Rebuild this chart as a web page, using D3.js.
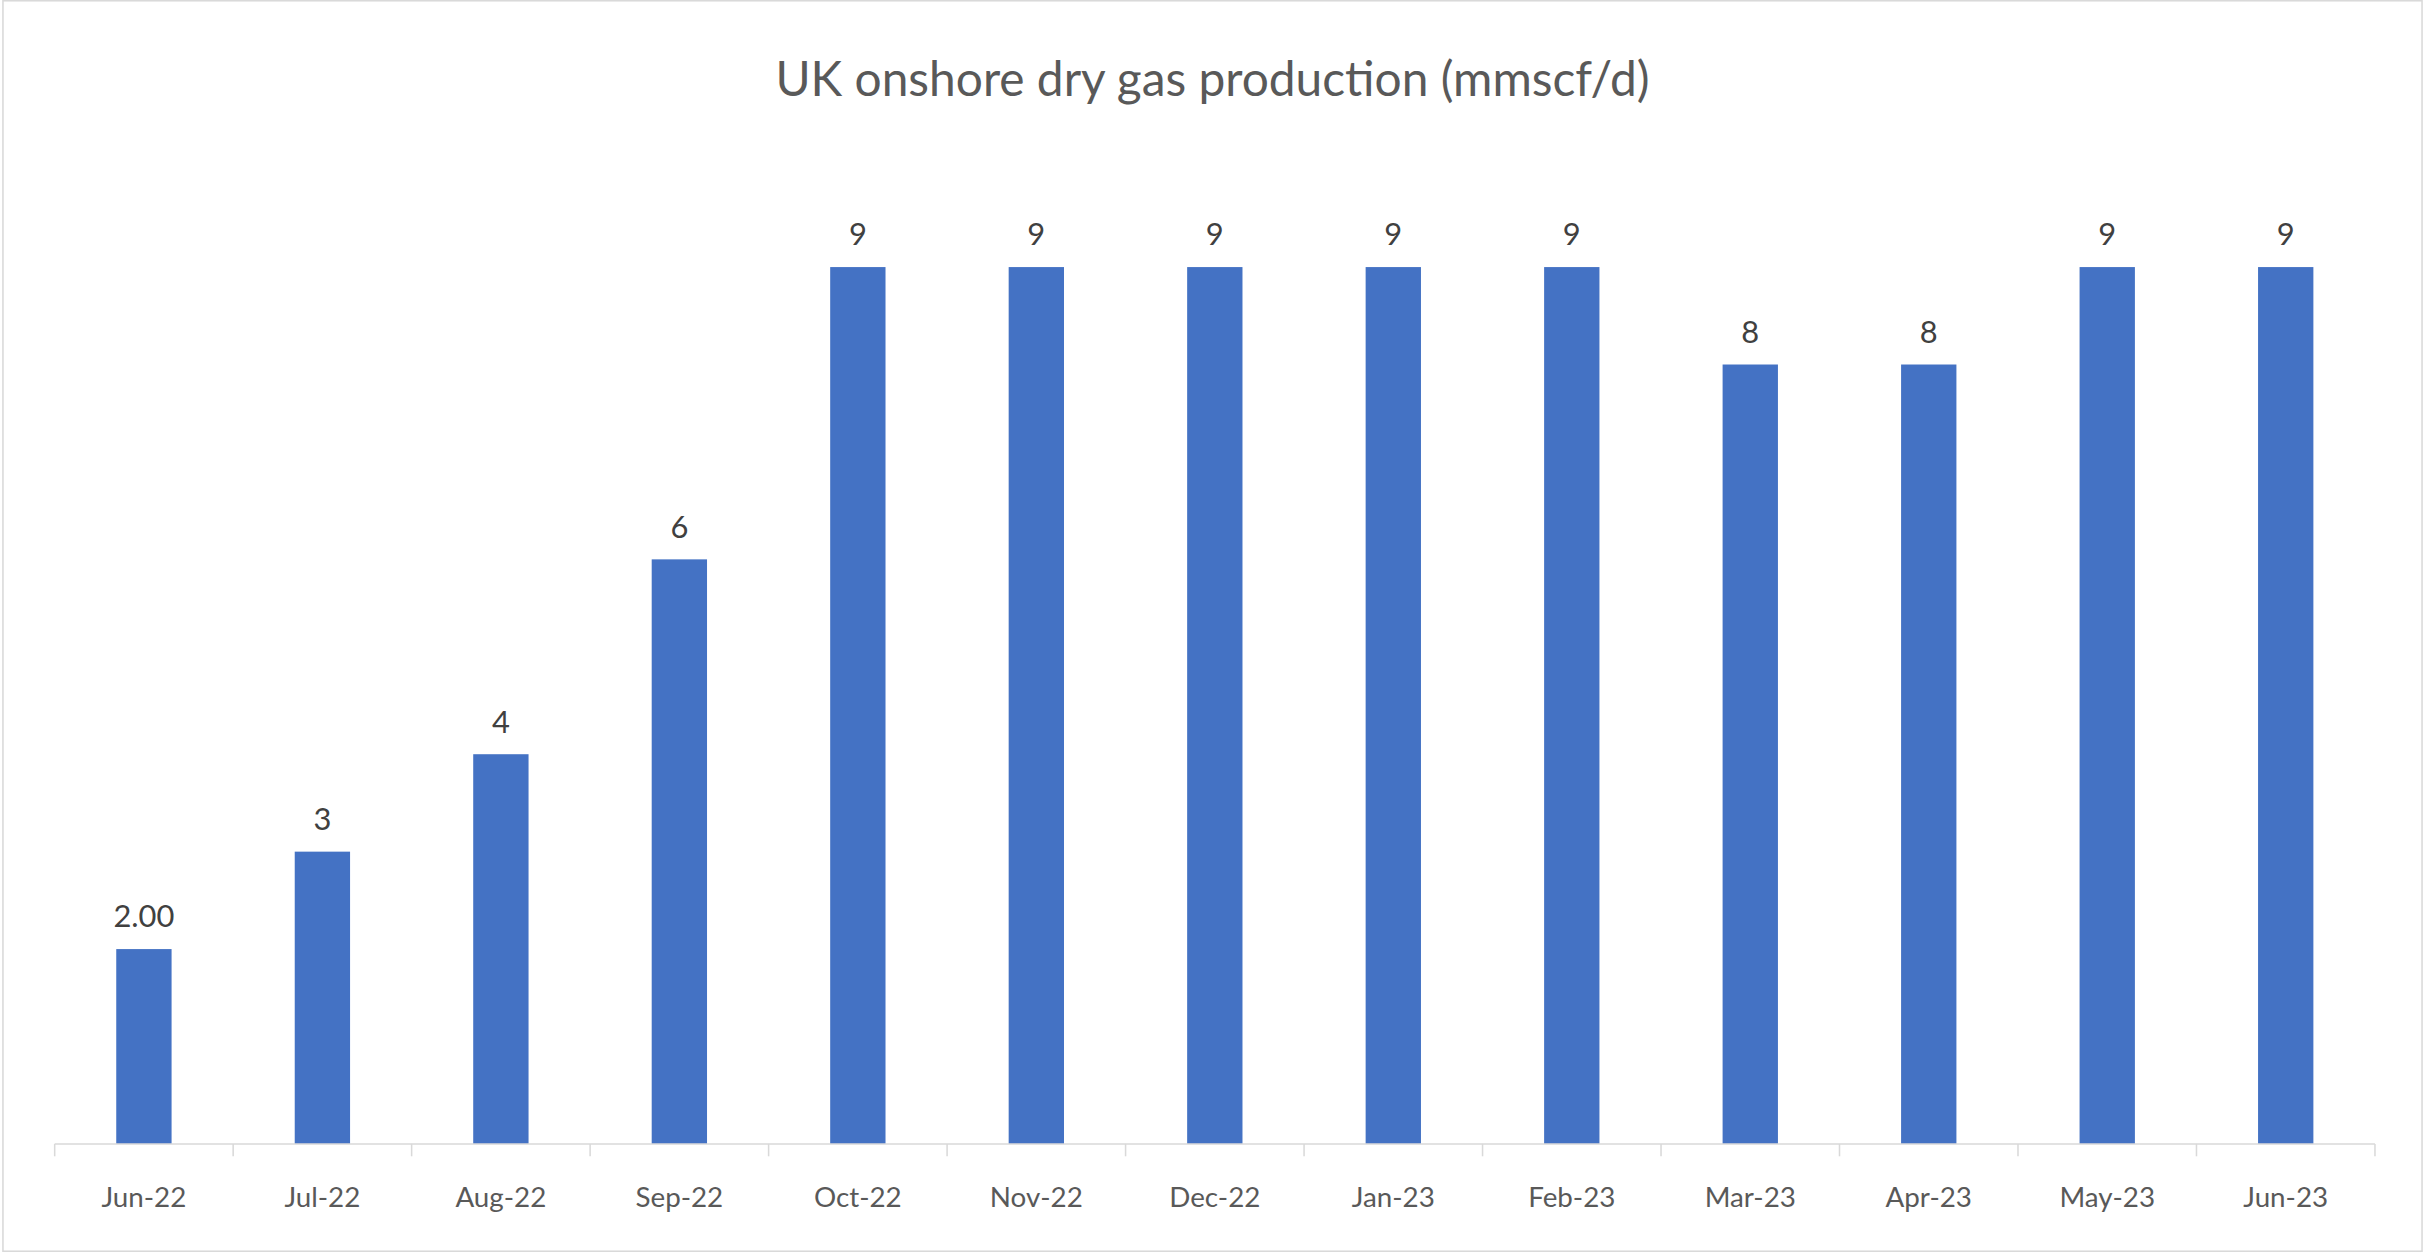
<!DOCTYPE html>
<html><head><meta charset="utf-8">
<script src="https://cdn.jsdelivr.net/npm/d3@7"></script>
<style>html,body{margin:0;padding:0;background:#fff;}svg{display:block;}</style>
</head><body>
<svg id="chart" width="2425" height="1252" viewBox="0 0 1568 811"></svg>
<script>
// chart data
const months = ['Jun-22','Jul-22','Aug-22','Sep-22','Oct-22','Nov-22','Dec-22','Jan-23','Feb-23','Mar-23','Apr-23','May-23','Jun-23'];
const production = [2, 3, 4, 6, 9, 9, 9, 9, 9, 8, 8, 9, 9];
const valueLabels = ['2.00','3','4','6','9','9','9','9','9','8','8','9','9'];

const svg = d3.select('#chart');
const W = 1568, H = 811;
const font = 'Lato, "Open Sans", sans-serif';

svg.append('rect').attr('x', 0.5).attr('y', 0.5).attr('width', W - 1).attr('height', H - 1)
  .attr('fill', '#fff').attr('stroke', '#d9d9d9');

const x = d3.scaleBand().domain(months).range([34, 1537]).paddingInner(0.69).paddingOuter(0.345);
const y = d3.scaleLinear().domain([0, 9]).range([741, 173]);

svg.append('text').attr('x', W / 2).attr('y', 62).attr('text-anchor', 'middle')
  .attr('font-family', font).attr('font-size', 31).attr('fill', '#595959')
  .text('UK onshore dry gas production (mmscf/d)');

svg.append('g').selectAll('rect').data(production).join('rect')
  .attr('x', (d, i) => x(months[i])).attr('width', x.bandwidth())
  .attr('y', d => y(d)).attr('height', d => y(0) - y(d))
  .attr('fill', '#4472c4');

svg.append('g').selectAll('text').data(production).join('text')
  .attr('x', (d, i) => x(months[i]) + x.bandwidth() / 2)
  .attr('y', d => y(d) - 14).attr('text-anchor', 'middle')
  .attr('font-family', font).attr('font-size', 20).attr('fill', '#404040')
  .text((d, i) => valueLabels[i]);

// category axis with ticks between bands
const step = x.step();
const axis = svg.append('g').attr('stroke', '#d9d9d9');
axis.append('line').attr('x1', 34).attr('x2', 1537).attr('y1', y(0)).attr('y2', y(0));
d3.range(months.length + 1).forEach(i => {
  const tx = 34 + i * step;
  axis.append('line').attr('x1', tx).attr('x2', tx).attr('y1', y(0)).attr('y2', y(0) + 8);
});

svg.append('g').selectAll('text').data(months).join('text')
  .attr('x', d => x(d) + x.bandwidth() / 2).attr('y', 782).attr('text-anchor', 'middle')
  .attr('font-family', font).attr('font-size', 18).attr('fill', '#595959')
  .text(d => d);
</script>
</body></html>
